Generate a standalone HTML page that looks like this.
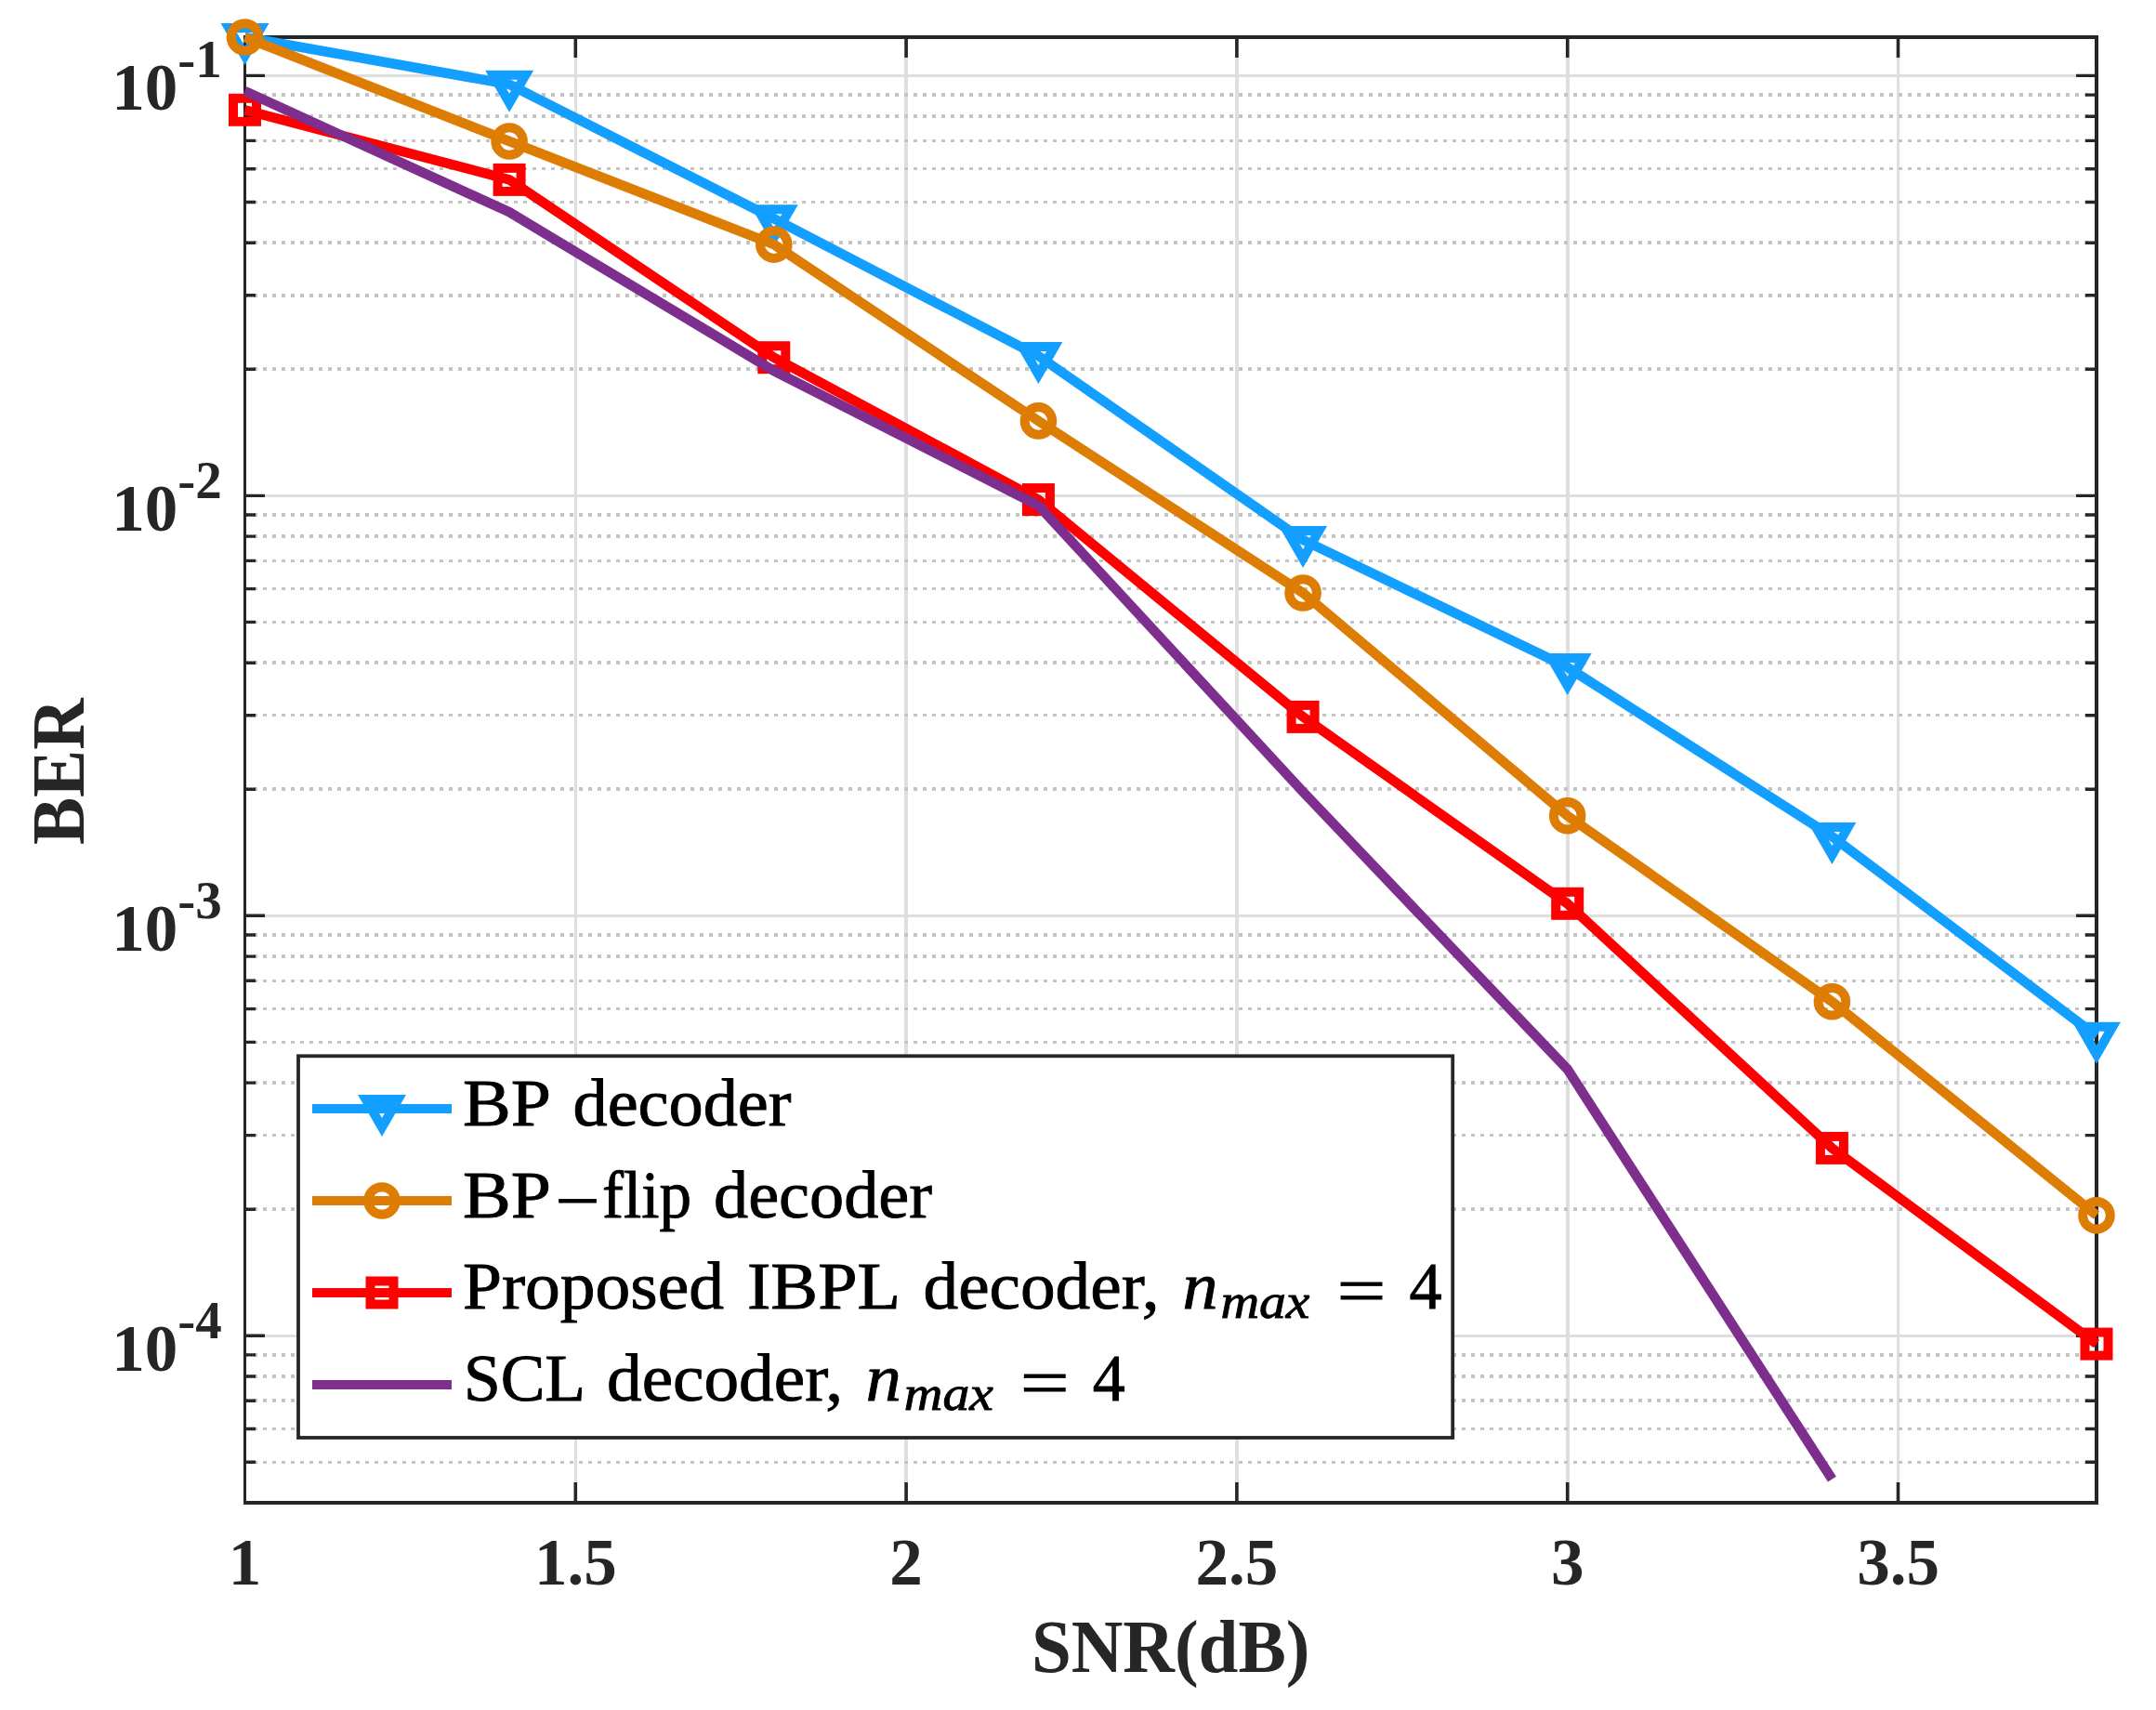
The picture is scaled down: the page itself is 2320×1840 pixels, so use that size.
<!DOCTYPE html>
<html><head><meta charset="utf-8"><title>BER vs SNR</title>
<style>html,body{margin:0;padding:0;background:#fff}svg{display:block}</style></head>
<body>
<svg width="2320" height="1840" viewBox="0 0 2320 1840">
<rect x="0" y="0" width="2320" height="1840" fill="#fff"/>
<g shape-rendering="crispEdges">
<rect x="263.5" y="79.6" width="1992.5" height="3.6" fill="#dfdfdf"/>
<rect x="263.5" y="531.6" width="1992.5" height="3.6" fill="#dfdfdf"/>
<rect x="263.5" y="983.5" width="1992.5" height="3.6" fill="#dfdfdf"/>
<rect x="263.5" y="1435.5" width="1992.5" height="3.6" fill="#dfdfdf"/>
<rect x="617.5" y="40.0" width="3.6" height="1577.0" fill="#dfdfdf"/>
<rect x="973.3" y="40.0" width="3.6" height="1577.0" fill="#dfdfdf"/>
<rect x="1329.1" y="40.0" width="3.6" height="1577.0" fill="#dfdfdf"/>
<rect x="1684.9" y="40.0" width="3.6" height="1577.0" fill="#dfdfdf"/>
<rect x="2040.7" y="40.0" width="3.6" height="1577.0" fill="#dfdfdf"/>
<line x1="263" y1="1573.5" x2="2254" y2="1573.5" stroke="#c4c4c4" stroke-width="3" stroke-dasharray="4 6"/>
<line x1="263" y1="1537.5" x2="2254" y2="1537.5" stroke="#c4c4c4" stroke-width="3" stroke-dasharray="4 6"/>
<line x1="263" y1="1507.0" x2="2254" y2="1507.0" stroke="#c4c4c4" stroke-width="4" stroke-dasharray="4 6"/>
<line x1="263" y1="1481.0" x2="2254" y2="1481.0" stroke="#c4c4c4" stroke-width="4" stroke-dasharray="4 6"/>
<line x1="263" y1="1458.0" x2="2254" y2="1458.0" stroke="#c4c4c4" stroke-width="4" stroke-dasharray="4 6"/>
<line x1="263" y1="1301.0" x2="2254" y2="1301.0" stroke="#c4c4c4" stroke-width="4" stroke-dasharray="4 6"/>
<line x1="263" y1="1221.5" x2="2254" y2="1221.5" stroke="#c4c4c4" stroke-width="3" stroke-dasharray="4 6"/>
<line x1="263" y1="1165.0" x2="2254" y2="1165.0" stroke="#c4c4c4" stroke-width="4" stroke-dasharray="4 6"/>
<line x1="263" y1="1121.5" x2="2254" y2="1121.5" stroke="#c4c4c4" stroke-width="3" stroke-dasharray="4 6"/>
<line x1="263" y1="1085.5" x2="2254" y2="1085.5" stroke="#c4c4c4" stroke-width="3" stroke-dasharray="4 6"/>
<line x1="263" y1="1055.5" x2="2254" y2="1055.5" stroke="#c4c4c4" stroke-width="3" stroke-dasharray="4 6"/>
<line x1="263" y1="1029.0" x2="2254" y2="1029.0" stroke="#c4c4c4" stroke-width="4" stroke-dasharray="4 6"/>
<line x1="263" y1="1006.0" x2="2254" y2="1006.0" stroke="#c4c4c4" stroke-width="4" stroke-dasharray="4 6"/>
<line x1="263" y1="849.0" x2="2254" y2="849.0" stroke="#c4c4c4" stroke-width="4" stroke-dasharray="4 6"/>
<line x1="263" y1="769.5" x2="2254" y2="769.5" stroke="#c4c4c4" stroke-width="3" stroke-dasharray="4 6"/>
<line x1="263" y1="713.0" x2="2254" y2="713.0" stroke="#c4c4c4" stroke-width="4" stroke-dasharray="4 6"/>
<line x1="263" y1="669.5" x2="2254" y2="669.5" stroke="#c4c4c4" stroke-width="3" stroke-dasharray="4 6"/>
<line x1="263" y1="633.5" x2="2254" y2="633.5" stroke="#c4c4c4" stroke-width="3" stroke-dasharray="4 6"/>
<line x1="263" y1="603.5" x2="2254" y2="603.5" stroke="#c4c4c4" stroke-width="3" stroke-dasharray="4 6"/>
<line x1="263" y1="577.0" x2="2254" y2="577.0" stroke="#c4c4c4" stroke-width="4" stroke-dasharray="4 6"/>
<line x1="263" y1="554.0" x2="2254" y2="554.0" stroke="#c4c4c4" stroke-width="4" stroke-dasharray="4 6"/>
<line x1="263" y1="397.0" x2="2254" y2="397.0" stroke="#c4c4c4" stroke-width="4" stroke-dasharray="4 6"/>
<line x1="263" y1="318.0" x2="2254" y2="318.0" stroke="#c4c4c4" stroke-width="4" stroke-dasharray="4 6"/>
<line x1="263" y1="261.0" x2="2254" y2="261.0" stroke="#c4c4c4" stroke-width="4" stroke-dasharray="4 6"/>
<line x1="263" y1="217.5" x2="2254" y2="217.5" stroke="#c4c4c4" stroke-width="3" stroke-dasharray="4 6"/>
<line x1="263" y1="181.5" x2="2254" y2="181.5" stroke="#c4c4c4" stroke-width="3" stroke-dasharray="4 6"/>
<line x1="263" y1="151.5" x2="2254" y2="151.5" stroke="#c4c4c4" stroke-width="3" stroke-dasharray="4 6"/>
<line x1="263" y1="125.0" x2="2254" y2="125.0" stroke="#c4c4c4" stroke-width="4" stroke-dasharray="4 6"/>
<line x1="263" y1="102.0" x2="2254" y2="102.0" stroke="#c4c4c4" stroke-width="4" stroke-dasharray="4 6"/>
</g>
<g stroke="#262626" fill="none">
<path d="M263.5 42 V1615" stroke-width="3" />
<path d="M2256.0 42 V1615" stroke-width="4" />
<path d="M262.0 40.0 H2258.0" stroke-width="4" />
<path d="M262.0 1617.0 H2258.0" stroke-width="4" />
<path d="M265.0 81.4 h20 M2254.0 81.4 h-20" stroke-width="3.4"/>
<path d="M265.0 533.4 h20 M2254.0 533.4 h-20" stroke-width="3.4"/>
<path d="M265.0 985.3 h20 M2254.0 985.3 h-20" stroke-width="3.4"/>
<path d="M265.0 1437.2 h20 M2254.0 1437.2 h-20" stroke-width="3.4"/>
<path d="M265.0 1573.3 h10 M2254.0 1573.3 h-10" stroke-width="3.4"/>
<path d="M265.0 1537.5 h10 M2254.0 1537.5 h-10" stroke-width="3.4"/>
<path d="M265.0 1507.3 h10 M2254.0 1507.3 h-10" stroke-width="3.4"/>
<path d="M265.0 1481.0 h10 M2254.0 1481.0 h-10" stroke-width="3.4"/>
<path d="M265.0 1457.9 h10 M2254.0 1457.9 h-10" stroke-width="3.4"/>
<path d="M265.0 1301.2 h10 M2254.0 1301.2 h-10" stroke-width="3.4"/>
<path d="M265.0 1221.6 h10 M2254.0 1221.6 h-10" stroke-width="3.4"/>
<path d="M265.0 1165.1 h10 M2254.0 1165.1 h-10" stroke-width="3.4"/>
<path d="M265.0 1121.4 h10 M2254.0 1121.4 h-10" stroke-width="3.4"/>
<path d="M265.0 1085.6 h10 M2254.0 1085.6 h-10" stroke-width="3.4"/>
<path d="M265.0 1055.3 h10 M2254.0 1055.3 h-10" stroke-width="3.4"/>
<path d="M265.0 1029.1 h10 M2254.0 1029.1 h-10" stroke-width="3.4"/>
<path d="M265.0 1006.0 h10 M2254.0 1006.0 h-10" stroke-width="3.4"/>
<path d="M265.0 849.2 h10 M2254.0 849.2 h-10" stroke-width="3.4"/>
<path d="M265.0 769.7 h10 M2254.0 769.7 h-10" stroke-width="3.4"/>
<path d="M265.0 713.2 h10 M2254.0 713.2 h-10" stroke-width="3.4"/>
<path d="M265.0 669.4 h10 M2254.0 669.4 h-10" stroke-width="3.4"/>
<path d="M265.0 633.6 h10 M2254.0 633.6 h-10" stroke-width="3.4"/>
<path d="M265.0 603.4 h10 M2254.0 603.4 h-10" stroke-width="3.4"/>
<path d="M265.0 577.1 h10 M2254.0 577.1 h-10" stroke-width="3.4"/>
<path d="M265.0 554.0 h10 M2254.0 554.0 h-10" stroke-width="3.4"/>
<path d="M265.0 397.3 h10 M2254.0 397.3 h-10" stroke-width="3.4"/>
<path d="M265.0 317.7 h10 M2254.0 317.7 h-10" stroke-width="3.4"/>
<path d="M265.0 261.2 h10 M2254.0 261.2 h-10" stroke-width="3.4"/>
<path d="M265.0 217.5 h10 M2254.0 217.5 h-10" stroke-width="3.4"/>
<path d="M265.0 181.7 h10 M2254.0 181.7 h-10" stroke-width="3.4"/>
<path d="M265.0 151.4 h10 M2254.0 151.4 h-10" stroke-width="3.4"/>
<path d="M265.0 125.2 h10 M2254.0 125.2 h-10" stroke-width="3.4"/>
<path d="M265.0 102.1 h10 M2254.0 102.1 h-10" stroke-width="3.4"/>
<path d="M619.3 1615.0 v-20 M619.3 42.0 v20" stroke-width="3.6"/>
<path d="M975.1 1615.0 v-20 M975.1 42.0 v20" stroke-width="3.6"/>
<path d="M1330.9 1615.0 v-20 M1330.9 42.0 v20" stroke-width="3.6"/>
<path d="M1686.7 1615.0 v-20 M1686.7 42.0 v20" stroke-width="3.6"/>
<path d="M2042.5 1615.0 v-20 M2042.5 42.0 v20" stroke-width="3.6"/>
</g>
<clipPath id="c"><rect x="263.5" y="40.0" width="1992.5" height="1577.0"/></clipPath>
<polyline points="263.5,40.0 548.1,90.8 832.8,235.3 1117.4,383.0 1402.1,581.0 1686.7,718.0 1971.4,900.0 2256.0,1114.7" fill="none" stroke="#139FFF" stroke-width="10.6" stroke-linejoin="miter"/>
<path d="M263.5 60.0 L246.2 30.0 L280.8 30.0 Z" fill="none" stroke="#139FFF" stroke-width="10" stroke-linejoin="miter"/>
<path d="M548.1 110.8 L530.8 80.8 L565.5 80.8 Z" fill="none" stroke="#139FFF" stroke-width="10" stroke-linejoin="miter"/>
<path d="M832.8 255.3 L815.5 225.3 L850.1 225.3 Z" fill="none" stroke="#139FFF" stroke-width="10" stroke-linejoin="miter"/>
<path d="M1117.4 403.0 L1100.1 373.0 L1134.7 373.0 Z" fill="none" stroke="#139FFF" stroke-width="10" stroke-linejoin="miter"/>
<path d="M1402.1 601.0 L1384.8 571.0 L1419.4 571.0 Z" fill="none" stroke="#139FFF" stroke-width="10" stroke-linejoin="miter"/>
<path d="M1686.7 738.0 L1669.4 708.0 L1704.0 708.0 Z" fill="none" stroke="#139FFF" stroke-width="10" stroke-linejoin="miter"/>
<path d="M1971.4 920.0 L1954.0 890.0 L1988.7 890.0 Z" fill="none" stroke="#139FFF" stroke-width="10" stroke-linejoin="miter"/>
<path d="M2256.0 1134.7 L2238.7 1104.7 L2273.3 1104.7 Z" fill="none" stroke="#139FFF" stroke-width="10" stroke-linejoin="miter"/>
<polyline points="263.5,40.0 548.1,152.0 832.8,263.1 1117.4,452.9 1402.1,638.0 1686.7,877.8 1971.4,1077.8 2256.0,1307.7" fill="none" stroke="#DD7D03" stroke-width="10.6" stroke-linejoin="miter"/>
<circle cx="263.5" cy="40.0" r="14.8" fill="none" stroke="#DD7D03" stroke-width="10"/>
<circle cx="548.1" cy="152.0" r="14.8" fill="none" stroke="#DD7D03" stroke-width="10"/>
<circle cx="832.8" cy="263.1" r="14.8" fill="none" stroke="#DD7D03" stroke-width="10"/>
<circle cx="1117.4" cy="452.9" r="14.8" fill="none" stroke="#DD7D03" stroke-width="10"/>
<circle cx="1402.1" cy="638.0" r="14.8" fill="none" stroke="#DD7D03" stroke-width="10"/>
<circle cx="1686.7" cy="877.8" r="14.8" fill="none" stroke="#DD7D03" stroke-width="10"/>
<circle cx="1971.4" cy="1077.8" r="14.8" fill="none" stroke="#DD7D03" stroke-width="10"/>
<circle cx="2256.0" cy="1307.7" r="14.8" fill="none" stroke="#DD7D03" stroke-width="10"/>
<polyline points="263.5,118.3 548.1,193.4 832.8,384.7 1117.4,537.6 1402.1,771.4 1686.7,972.3 1971.4,1235.4 2256.0,1446.1" fill="none" stroke="#FF0000" stroke-width="10.6" stroke-linejoin="miter"/>
<rect x="251.0" y="105.8" width="25" height="25" fill="none" stroke="#FF0000" stroke-width="10"/>
<rect x="535.6" y="180.9" width="25" height="25" fill="none" stroke="#FF0000" stroke-width="10"/>
<rect x="820.3" y="372.2" width="25" height="25" fill="none" stroke="#FF0000" stroke-width="10"/>
<rect x="1104.9" y="525.1" width="25" height="25" fill="none" stroke="#FF0000" stroke-width="10"/>
<rect x="1389.6" y="758.9" width="25" height="25" fill="none" stroke="#FF0000" stroke-width="10"/>
<rect x="1674.2" y="959.8" width="25" height="25" fill="none" stroke="#FF0000" stroke-width="10"/>
<rect x="1958.9" y="1222.9" width="25" height="25" fill="none" stroke="#FF0000" stroke-width="10"/>
<rect x="2243.5" y="1433.6" width="25" height="25" fill="none" stroke="#FF0000" stroke-width="10"/>
<polyline points="263.5,98.0 548.1,228.3 832.8,399.0 1117.4,544.0 1402.1,852.0 1686.7,1150.5 1971.4,1591.7" fill="none" stroke="#7E2F8E" stroke-width="10.6" stroke-linejoin="miter"/>
<g font-family="'Liberation Serif', serif" font-weight="bold" font-size="71" fill="#262626" text-anchor="middle">
<text x="263.5" y="1704.7">1</text>
<text x="619.3" y="1704.7">1.5</text>
<text x="975.1" y="1704.7">2</text>
<text x="1330.9" y="1704.7">2.5</text>
<text x="1686.7" y="1704.7">3</text>
<text x="2042.5" y="1704.7">3.5</text>
</g>
<g font-family="'Liberation Serif', serif" font-weight="bold" fill="#262626">
<text x="191.3" y="117.6" font-size="71" text-anchor="end">10</text>
<text x="191.3" y="82.6" font-size="57">-1</text>
<text x="191.3" y="571.4" font-size="71" text-anchor="end">10</text>
<text x="191.3" y="536.4" font-size="57">-2</text>
<text x="191.3" y="1023.3" font-size="71" text-anchor="end">10</text>
<text x="191.3" y="988.3" font-size="57">-3</text>
<text x="191.3" y="1475.2" font-size="71" text-anchor="end">10</text>
<text x="191.3" y="1440.2" font-size="57">-4</text>
</g>
<text x="1259.7" y="1799" font-family="'Liberation Serif', serif" font-weight="bold" font-size="79.5" fill="#262626" text-anchor="middle" textLength="299.5" lengthAdjust="spacingAndGlyphs">SNR(dB)</text>
<text transform="translate(90 830.3) rotate(-90)" font-family="'Liberation Serif', serif" font-weight="bold" font-size="79.5" fill="#262626" text-anchor="middle" textLength="157.5" lengthAdjust="spacingAndGlyphs">BER</text>
<rect x="321" y="1136.3" width="1242.2" height="410.7" fill="#fff" stroke="#262626" stroke-width="3.8"/>
<line x1="336" y1="1193" x2="486" y2="1193" stroke="#139FFF" stroke-width="10"/>
<line x1="336" y1="1292" x2="486" y2="1292" stroke="#DD7D03" stroke-width="10"/>
<line x1="336" y1="1391" x2="486" y2="1391" stroke="#FF0000" stroke-width="10"/>
<line x1="336" y1="1490" x2="486" y2="1490" stroke="#7E2F8E" stroke-width="10"/>
<path d="M411.0 1213.0 L393.7 1183.0 L428.3 1183.0 Z" fill="none" stroke="#139FFF" stroke-width="10" stroke-linejoin="miter"/>
<circle cx="411.0" cy="1292.0" r="14.8" fill="none" stroke="#DD7D03" stroke-width="10"/>
<rect x="398.5" y="1378.5" width="25" height="25" fill="none" stroke="#FF0000" stroke-width="10"/>
<text x="498" y="1211" font-family="'Liberation Serif', serif" font-size="72" fill="#000" stroke="#000" stroke-width="0.9" textLength="95" lengthAdjust="spacingAndGlyphs" >BP</text>
<text x="616.5" y="1211" font-family="'Liberation Serif', serif" font-size="72" fill="#000" stroke="#000" stroke-width="0.9" textLength="235" lengthAdjust="spacingAndGlyphs" >decoder</text>
<text x="498" y="1310" font-family="'Liberation Serif', serif" font-size="72" fill="#000" stroke="#000" stroke-width="0.9" textLength="95" lengthAdjust="spacingAndGlyphs" >BP</text>
<text x="597.5" y="1315.5" font-family="'Liberation Serif', serif" font-size="72" fill="#000" stroke="#000" stroke-width="0.9" textLength="48" lengthAdjust="spacingAndGlyphs" >−</text>
<text x="648" y="1310" font-family="'Liberation Serif', serif" font-size="72" fill="#000" stroke="#000" stroke-width="0.9" textLength="96" lengthAdjust="spacingAndGlyphs" >flip</text>
<text x="768" y="1310" font-family="'Liberation Serif', serif" font-size="72" fill="#000" stroke="#000" stroke-width="0.9" textLength="235" lengthAdjust="spacingAndGlyphs" >decoder</text>
<text x="498" y="1407.8" font-family="'Liberation Serif', serif" font-size="72" fill="#000" stroke="#000" stroke-width="0.9" textLength="281" lengthAdjust="spacingAndGlyphs" >Proposed</text>
<text x="804" y="1407.8" font-family="'Liberation Serif', serif" font-size="72" fill="#000" stroke="#000" stroke-width="0.9" textLength="165" lengthAdjust="spacingAndGlyphs" >IBPL</text>
<text x="993.5" y="1407.8" font-family="'Liberation Serif', serif" font-size="72" fill="#000" stroke="#000" stroke-width="0.9" textLength="254" lengthAdjust="spacingAndGlyphs" >decoder,</text>
<text x="499" y="1507" font-family="'Liberation Serif', serif" font-size="72" fill="#000" stroke="#000" stroke-width="0.9" textLength="131" lengthAdjust="spacingAndGlyphs" >SCL</text>
<text x="653" y="1507" font-family="'Liberation Serif', serif" font-size="72" fill="#000" stroke="#000" stroke-width="0.9" textLength="254" lengthAdjust="spacingAndGlyphs" >decoder,</text>
<text x="1272.4" y="1407.8" font-family="'Liberation Serif', serif" font-size="72" fill="#000" stroke="#000" stroke-width="0.9" textLength="38" lengthAdjust="spacingAndGlyphs" font-style="italic">n</text>
<text x="1313.4" y="1417.8" font-family="'Liberation Serif', serif" font-size="52" fill="#000" stroke="#000" stroke-width="0.9" textLength="96" lengthAdjust="spacingAndGlyphs" font-style="italic">max</text>
<text x="1438.4" y="1412.8" font-family="'Liberation Serif', serif" font-size="72" fill="#000" stroke="#000" stroke-width="0.9" textLength="53" lengthAdjust="spacingAndGlyphs" >=</text>
<text x="1516.4" y="1407.8" font-family="'Liberation Serif', serif" font-size="72" fill="#000" stroke="#000" stroke-width="0.9" textLength="35" lengthAdjust="spacingAndGlyphs" >4</text>
<text x="931.8" y="1507" font-family="'Liberation Serif', serif" font-size="72" fill="#000" stroke="#000" stroke-width="0.9" textLength="38" lengthAdjust="spacingAndGlyphs" font-style="italic">n</text>
<text x="972.8" y="1517" font-family="'Liberation Serif', serif" font-size="52" fill="#000" stroke="#000" stroke-width="0.9" textLength="96" lengthAdjust="spacingAndGlyphs" font-style="italic">max</text>
<text x="1097.8" y="1512" font-family="'Liberation Serif', serif" font-size="72" fill="#000" stroke="#000" stroke-width="0.9" textLength="53" lengthAdjust="spacingAndGlyphs" >=</text>
<text x="1175.8" y="1507" font-family="'Liberation Serif', serif" font-size="72" fill="#000" stroke="#000" stroke-width="0.9" textLength="35" lengthAdjust="spacingAndGlyphs" >4</text>
</svg>
</body></html>
